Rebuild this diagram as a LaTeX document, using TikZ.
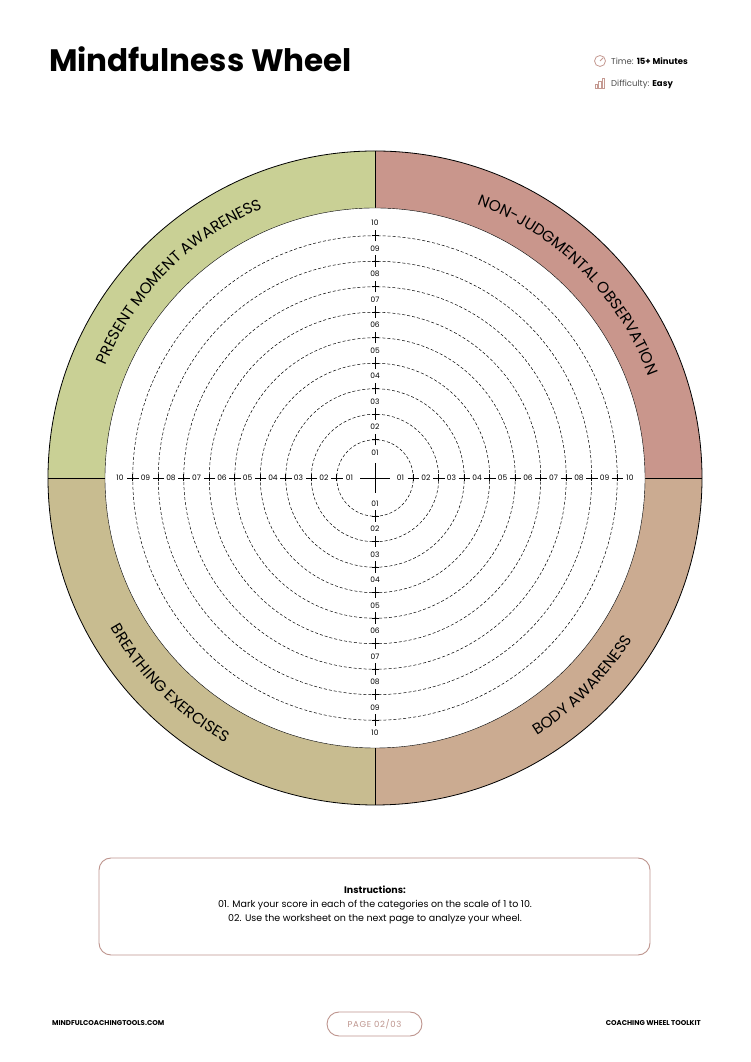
\documentclass[tikz,border=0pt]{standalone}
\usepackage{fontspec}
\setmainfont{Poppins}
\usetikzlibrary{decorations.text,calc}
\definecolor{cTL}{HTML}{C9D095}
\definecolor{cTR}{HTML}{C9968C}
\definecolor{cBR}{HTML}{CBAB91}
\definecolor{cBL}{HTML}{C8BC90}
\definecolor{rose}{HTML}{BE958E}
\definecolor{icon}{HTML}{C59A92}
\tikzset{num/.style={font=\fontsize{7.5}{7.5}\selectfont,inner sep=0pt},
 ringlab/.style={decorate,decoration={text along path,text align=center,text={|\fontsize{15.5}{15.5}\selectfont|#1}}}}
\begin{document}
\begin{tikzpicture}[x=1pt,y=1pt]
\useasboundingbox (0,0) rectangle (750,1062);
\fill[white] (0,0) rectangle (750,1062);
\coordinate (c) at (375,584);
% ring
\fill[cTL] (c) -- +(180:327) arc[start angle=180,end angle=90,radius=327] -- cycle;
\fill[cTR] (c) -- +(90:327) arc[start angle=90,end angle=0,radius=327] -- cycle;
\fill[cBR] (c) -- +(0:327) arc[start angle=0,end angle=-90,radius=327] -- cycle;
\fill[cBL] (c) -- +(-90:327) arc[start angle=-90,end angle=-180,radius=327] -- cycle;
\draw[line width=0.8pt] (c) circle[radius=327];
\draw[line width=0.8pt] ($(c)+(-327,0)$) -- ($(c)+(327,0)$);
\draw[line width=0.8pt] ($(c)+(0,-327)$) -- ($(c)+(0,327)$);
\fill[white] (c) circle[radius=270];
\draw[line width=0.4pt] (c) circle[radius=270];
% labels
\path[ringlab={PRESENT MOMENT AWARENESS}] (c) ++(178:292) arc[start angle=178,end angle=92,radius=292];
\path[ringlab={NON-JUDGMENTAL OBSERVATION}] (c) ++(88:292) arc[start angle=88,end angle=2,radius=292];
\path[ringlab={BODY AWARENESS}] (c) ++(-88:304) arc[start angle=-88,end angle=-2,radius=304];
\path[ringlab={BREATHING EXERCISES}] (c) ++(-178:304) arc[start angle=-178,end angle=-92,radius=304];
% dashed circles
\foreach \k in {1,...,9}{
  \draw[dashed,line width=0.5pt,dash pattern=on 3pt off 2pt] (c) circle[radius={25.5*\k+12.75}];
  \foreach \a in {0,90,180,270}{
    \draw[line width=0.6pt] (c) ++(\a:{25.5*\k+12.75}) ++(\a+90:3.5) -- ++(\a-90:7);
    \draw[line width=0.6pt] (c) ++(\a:{25.5*\k+7}) -- ++(\a:11.5);
  }
}
\draw[line width=0.8pt] ($(c)+(-15,0)$) -- ($(c)+(15,0)$);
\draw[line width=0.8pt] ($(c)+(0,-15)$) -- ($(c)+(0,15)$);
\foreach \k/\t in {1/01,2/02,3/03,4/04,5/05,6/06,7/07,8/08,9/09,10/10}{
  \node[num,fill=white,inner sep=1pt] (r\k) at ($(c)+({25.5*\k},0)$) {\t};
  \node[num,fill=white,inner sep=1pt] (l\k) at ($(c)+({-25.5*\k},0)$) {\t};
  \node[num,fill=white,inner sep=1pt] (u\k) at ($(c)+(0,{25.5*\k})$) {\t};
  \node[num,fill=white,inner sep=1pt] (d\k) at ($(c)+(0,{-25.5*\k})$) {\t};
}
% header
\node[anchor=base west,inner sep=0pt,font=\fontsize{31}{31}\selectfont\bfseries] (title) at (49,990) {Mindfulness Wheel};
\draw[icon,line width=0.8pt] (600,1001) circle[radius=5.5];
\draw[icon,line width=0.8pt] (600,1001) -- (603,1004);
\node[anchor=west,inner sep=0pt,font=\fontsize{8.5}{8.5}\selectfont] (time) at (611,1001) {\color{black!70}Time: \textbf{\color{black}15+ Minutes}};
\foreach \i/\h in {0/4,1/7,2/10}{\draw[icon,line width=0.7pt] (595+3.6*\i,974) rectangle ++(2.4,\h);}
\node[anchor=west,inner sep=0pt,font=\fontsize{8.5}{8.5}\selectfont] (diff) at (611,978) {\color{black!70}Difficulty: \textbf{\color{black}Easy}};
% instructions
\draw[rose,line width=0.9pt,rounded corners=12pt] (99,107) rectangle (650,204);
\node[align=center,inner sep=0pt,font=\fontsize{9.5}{14}\selectfont] (instr) at (375,157) {\textbf{Instructions:}\\01. Mark your score in each of the categories on the scale of 1 to 10.\\02. Use the worksheet on the next page to analyze your wheel.};
% footer
\node[anchor=west,inner sep=0pt,font=\fontsize{7}{7}\selectfont\bfseries] (site) at (52,39) {MINDFULCOACHINGTOOLS.COM};
\node[anchor=east,inner sep=0pt,font=\fontsize{7}{7}\selectfont\bfseries] (kit) at (701,39) {COACHING WHEEL TOOLKIT};
\draw[rose,line width=0.9pt,rounded corners=12pt] (327,26) rectangle (422,50);
\node[inner sep=0pt,text=rose,font=\fontsize{8.5}{8.5}\selectfont\addfontfeature{LetterSpace=8}] (page) at (374.5,38) {PAGE 02/03};
\end{tikzpicture}
\end{document}
